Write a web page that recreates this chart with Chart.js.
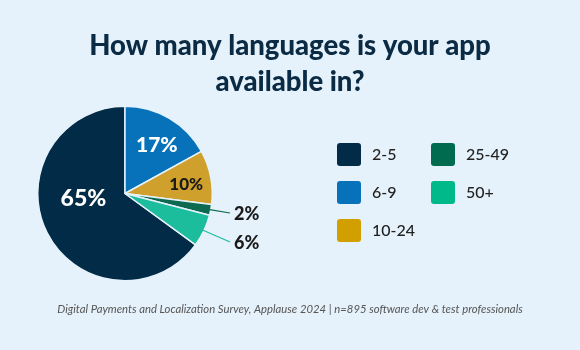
<!DOCTYPE html>
<html>
<head>
<meta charset="utf-8">
<script src="https://cdn.jsdelivr.net/npm/chart.js@4.4.1/dist/chart.umd.min.js"></script>
<style>
  html, body { margin: 0; padding: 0; background: #e6f2fb; }
  #wrap { width: 580px; height: 350px; position: relative; }
</style>
</head>
<body>
<div id="wrap"><canvas id="c" width="580" height="350"></canvas></div>
<script>
// ---- data ----
const categories = ['2-5', '6-9', '10-24', '25-49', '50+'];
const shares = [65, 17, 10, 2, 6];
const percentLabels = ['65%', '17%', '10%', '2%', '6%'];
const titleLines = ['How many languages is your app', 'available in?'];
const footerText = 'Digital Payments and Localization Survey, Applause 2024 | n=895 software dev & test professionals';

// ---- styles ----
const sliceColors = ['#022b47', '#0772b9', '#cfa02b', '#0b6a4f', '#1bbd9c'];
const legendColors = ['#022b47', '#0772b9', '#d19f00', '#006b4f', '#00b98a'];
const labelStyle = [
  { mode: 'in', frac: 0.48, angleShift: 20, color: '#ffffff', size: 23 },
  { mode: 'in', frac: 0.66, angleShift: 3, color: '#ffffff', size: 21 },
  { mode: 'in', frac: 0.71, angleShift: 2, color: '#1a1a1a', size: 17 },
  { mode: 'out', lineTo: [230, 213], textX: 234, color: '#1a1a1a', lineColor: '#0b6a4f', size: 18 },
  { mode: 'out', lineTo: [230, 242], textX: 234, color: '#1a1a1a', lineColor: '#1bbd9c', size: 18 }
];
const FONT = 'Lato, "Open Sans", sans-serif';

const labelPlugin = {
  id: 'sliceLabels',
  afterDatasetsDraw(chart) {
    const ctx = chart.ctx;
    const meta = chart.getDatasetMeta(0);
    meta.data.forEach((arc, i) => {
      const p = arc.getProps(['x', 'y', 'startAngle', 'endAngle', 'outerRadius'], true);
      const st = labelStyle[i];
      const mid = (p.startAngle + p.endAngle) / 2;
      ctx.save();
      ctx.font = `900 ${st.size}px ${FONT}`;
      ctx.fillStyle = st.color;
      ctx.textBaseline = 'middle';
      if (st.mode === 'in') {
        const a = mid + st.angleShift * Math.PI / 180;
        const r = p.outerRadius * st.frac;
        ctx.textAlign = 'center';
        ctx.fillText(percentLabels[i], p.x + Math.cos(a) * r, p.y + Math.sin(a) * r);
      } else {
        const ex = p.x + Math.cos(mid) * (p.outerRadius - 1);
        const ey = p.y + Math.sin(mid) * (p.outerRadius - 1);
        ctx.strokeStyle = st.lineColor;
        ctx.lineWidth = 1.2;
        ctx.beginPath();
        ctx.moveTo(ex, ey);
        ctx.lineTo(st.lineTo[0], st.lineTo[1]);
        ctx.stroke();
        ctx.textAlign = 'left';
        ctx.fillText(percentLabels[i], st.textX, st.lineTo[1] + 1);
      }
      ctx.restore();
    });
  }
};

const legendPlugin = {
  id: 'gridLegend',
  afterDraw(chart) {
    const ctx = chart.ctx;
    const colX = [337, 431];
    const rowY = [143, 181, 219];
    const perCol = 3;
    categories.forEach((cat, i) => {
      const col = Math.floor(i / perCol);
      const row = i % perCol;
      const x = colX[col], y = rowY[row];
      ctx.save();
      ctx.fillStyle = legendColors[i];
      ctx.beginPath();
      ctx.roundRect(x, y, 24, 23, 3);
      ctx.fill();
      ctx.fillStyle = '#222222';
      ctx.font = `500 16px ${FONT}`;
      ctx.textBaseline = 'middle';
      ctx.textAlign = 'left';
      ctx.fillText(cat, x + 35, y + 12);
      ctx.restore();
    });
  }
};

const textPlugin = {
  id: 'titleFooter',
  afterDraw(chart) {
    const ctx = chart.ctx;
    ctx.save();
    ctx.textAlign = 'center';
    ctx.textBaseline = 'alphabetic';
    ctx.fillStyle = '#0b2b45';
    ctx.font = `900 27.5px ${FONT}`;
    titleLines.forEach((line, i) => ctx.fillText(line, 290, 55 + i * 36));
    ctx.font = `italic 11.3px ${FONT}`;
    ctx.fillStyle = '#555555';
    ctx.fillText(footerText, 290, 313);
    ctx.restore();
  }
};

new Chart(document.getElementById('c'), {
  type: 'pie',
  data: {
    labels: categories,
    datasets: [{
      data: shares,
      backgroundColor: sliceColors,
      borderColor: '#e6f2fb',
      borderWidth: 1.5
    }]
  },
  options: {
    responsive: false,
    animation: false,
    rotation: 126,
    layout: { padding: { left: 37, right: 367, top: 105, bottom: 68 } },
    plugins: {
      legend: { display: false },
      tooltip: { enabled: false },
      title: { display: false }
    }
  },
  plugins: [labelPlugin, legendPlugin, textPlugin]
});
</script>
</body>
</html>
